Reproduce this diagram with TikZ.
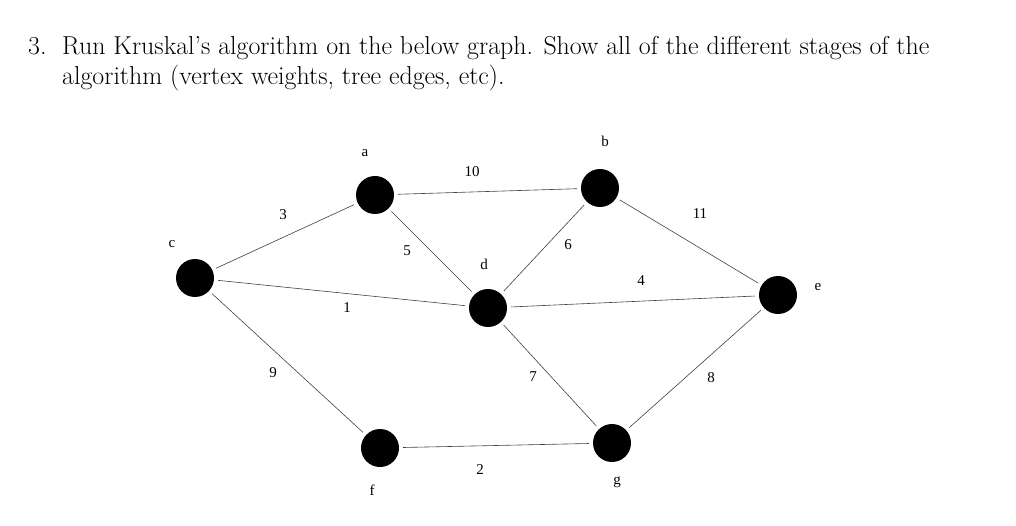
\documentclass[tikz,border=0pt]{standalone}
\usepackage{fontspec}
\newfontfamily\tms{Liberation Serif}
\begin{document}
\begin{tikzpicture}[x=1pt,y=-1pt,
  vtx/.style={circle,fill=black,minimum size=38pt,inner sep=0pt},
  lbl/.style={font=\tms\fontsize{15}{17}\selectfont,inner sep=0pt},
  edge/.style={draw=black!75,line width=0.6pt,shorten >=4pt,shorten <=4pt},
  ttl/.style={font=\fontsize{25.9}{30}\selectfont,anchor=base west,inner sep=0pt}]
\useasboundingbox (0,0) rectangle (1016,526);
\node[ttl] (t0) at (28,55) {3.};
\node[ttl] (t1) at (62,55) {Run Kruskal's algorithm on the below graph. Show all of the different stages of the};
\node[ttl] (t2) at (62,85) {algorithm (vertex weights, tree edges, etc).};
\node[vtx] (a) at (375,195) {};
\node[vtx] (b) at (600,188) {};
\node[vtx] (c) at (195,278) {};
\node[vtx] (d) at (488,308) {};
\node[vtx] (e) at (778,295) {};
\node[vtx] (f) at (380,448) {};
\node[vtx] (g) at (612,443) {};
\node[lbl] (la) at (365,153) {a};
\node[lbl] (lb) at (605,141) {b};
\node[lbl] (lc) at (172,244) {c};
\node[lbl] (ld) at (484,264) {d};
\node[lbl] (le) at (818,287) {e};
\node[lbl] (lf) at (372,490) {f};
\node[lbl] (lg) at (617,482) {g};
\draw[edge] (a)--(b); \draw[edge] (a)--(c); \draw[edge] (a)--(d);
\draw[edge] (b)--(d); \draw[edge] (b)--(e); \draw[edge] (c)--(d);
\draw[edge] (c)--(f); \draw[edge] (d)--(e); \draw[edge] (d)--(g);
\draw[edge] (f)--(g); \draw[edge] (g)--(e);
\node[lbl] (w10) at (472,172) {10};
\node[lbl] (w3) at (283,215) {3};
\node[lbl] (w11) at (700,214) {11};
\node[lbl] (w5) at (407,251) {5};
\node[lbl] (w6) at (568,245) {6};
\node[lbl] (w4) at (641,281) {4};
\node[lbl] (w1) at (347,308) {1};
\node[lbl] (w9) at (273,373) {9};
\node[lbl] (w7) at (533,377) {7};
\node[lbl] (w8) at (711,378) {8};
\node[lbl] (w2) at (480,470) {2};
\end{tikzpicture}
\end{document}
